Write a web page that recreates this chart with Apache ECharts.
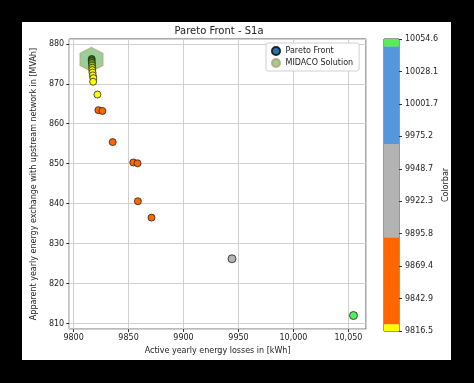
<!DOCTYPE html>
<html>
<head>
<meta charset="utf-8">
<script src="https://cdn.jsdelivr.net/npm/echarts@6/dist/echarts.min.js"></script>
<style>
	body { margin: 0; background: #000; width: 474px; height: 383px; overflow: hidden; }
	#chart { position: absolute; left: 22px; top: 22px; width: 429px; height: 338px; background: #fff; }
</style>
</head>
<body>
<div id="chart"></div>
<script>
	// pareto points: x = active losses [kWh], y = apparent exchange [MVAh]
	var paretoX = [9816.5, 9816.5, 9816.6, 9816.8, 9817.0, 9817.0, 9817.2, 9817.5, 9818.0, 9817.8,
		9821.7, 9822.6, 9826.2, 9835.6, 9854.3, 9858.2, 9858.5, 9870.9, 9944.1, 10054.6];
	var paretoY = [876.2, 875.7, 875.2, 874.6, 874.0, 873.4, 872.8, 872.1, 871.4, 870.5,
		867.3, 863.4, 863.2, 855.4, 850.3, 850.1, 840.6, 836.5, 826.2, 812.0];
	var midacoX = [9816.3];
	var midacoY = [876.1];

	// colorbar
	var cbTicks = ['9816.5', '9842.9', '9869.4', '9895.8', '9922.3', '9948.7', '9975.2', '10001.7', '10028.1', '10054.6'];
	var cbBounds = [9816.5, 9822.0, 9893.0, 9969.0, 10048.6, 10054.6];
	var cbColors = ['#ffff00', '#ff6600', '#b3b3b3', '#5597dd', '#55ee55'];
	// the first few points are drawn in greens, not from the colorbar
	var clusterShades = ['#2e6b00', '#3f8a00', '#5fa800', '#95c400', '#c8dc00'];

	var cbMin = cbBounds[0], cbMax = cbBounds[cbBounds.length - 1];
	var cbStep = (cbMax - cbMin) / (cbTicks.length - 1);

	function colorOf(i) {
		if (i < clusterShades.length) return clusterShades[i];
		var x = paretoX[i];
		for (var k = 0; k < cbColors.length; k++) {
			if (x <= cbBounds[k + 1]) return cbColors[k];
		}
		return cbColors[cbColors.length - 1];
	}

	var paretoData = paretoX.map(function(x, i) {
		var big = i >= paretoX.length - 2;
		return {
			value: [x, paretoY[i]],
			symbolSize: big ? 8 : 7,
			itemStyle: { color: colorOf(i) }
		};
	});
	var midacoData = midacoX.map(function(x, i) { return [x, midacoY[i]]; });

	var cbSeries = cbColors.map(function(c, k) {
		return {
			type: 'bar',
			xAxisIndex: 1,
			yAxisIndex: 2,
			stack: 'cb',
			barWidth: '100%',
			silent: true,
			itemStyle: { color: c },
			data: [(cbBounds[k + 1] - cbBounds[k]) / cbStep]
		};
	});

	var txt = '#222';
	var font = 'DejaVu Sans';

	var chart = echarts.init(document.getElementById('chart'));
	var option = {
		animation: false,
		textStyle: { fontFamily: font },
		title: {
			text: 'Pareto Front - S1a',
			left: 192, top: -1,
			textAlign: 'center',
			textStyle: { fontSize: 10, fontWeight: 'normal', color: txt, fontFamily: font }
		},
		legend: {
			orient: 'vertical',
			left: 244, top: 21,
			data: ['Pareto Front', 'MIDACO Solution'],
			icon: 'circle',
			itemWidth: 9, itemHeight: 8, itemGap: 2,
			padding: [3, 6, 3, 5],
			borderColor: '#d0d0d0', borderWidth: 1, borderRadius: 2,
			backgroundColor: '#fff',
			textStyle: { fontSize: 8, color: txt, fontFamily: font }
		},
		grid: [
			{ left: 41, top: 17, width: 303, height: 292, show: true, borderColor: '#555', borderWidth: 1 },
			{ left: 362, top: 17, width: 15, height: 292, show: true, borderColor: '#333', borderWidth: 1 }
		],
		xAxis: [{
			type: 'value',
			gridIndex: 0,
			min: 9796, max: 10066,
			splitNumber: 5,
			name: 'Active yearly energy losses in [kWh]',
			nameLocation: 'middle', nameGap: 17,
			nameTextStyle: { fontSize: 8, color: txt, fontFamily: font },
			axisLine: { show: false },
			axisTick: { show: true, length: 3, lineStyle: { color: '#333' } },
			axisLabel: {
				fontSize: 8, color: txt, margin: 5,
				showMinLabel: false, showMaxLabel: false,
				formatter: function(v) { return v >= 10000 ? String(v).replace(/^(\d+)(\d{3})$/, '$1,$2') : String(v); }
			},
			splitLine: { show: true, lineStyle: { color: '#d0d0d0', width: 1 } }
		}, {
			type: 'category',
			gridIndex: 1,
			data: ['cb'],
			show: false
		}],
		yAxis: [{
			type: 'value',
			gridIndex: 0,
			min: 808.6, max: 881.2,
			splitNumber: 7,
			name: 'Apparent yearly energy exchange with upstream network in [MVAh]',
			nameLocation: 'middle', nameGap: 24,
			nameTextStyle: { fontSize: 8, color: txt, fontFamily: font },
			axisLine: { show: false },
			axisTick: { show: true, length: 3, lineStyle: { color: '#333' } },
			axisLabel: { fontSize: 8, color: txt, margin: 5, showMinLabel: false, showMaxLabel: false },
			splitLine: { show: true, lineStyle: { color: '#d0d0d0', width: 1 } }
		}, {
			type: 'value',
			gridIndex: 1,
			show: false
		}, {
			type: 'value',
			gridIndex: 1,
			min: 0, max: cbTicks.length - 1,
			interval: 1,
			position: 'right',
			name: 'Colorbar',
			nameLocation: 'middle', nameGap: 40,
			nameRotate: 90,
			nameTextStyle: { fontSize: 8, color: txt, fontFamily: font },
			axisLine: { show: false },
			axisTick: { show: true, length: 3, lineStyle: { color: '#333' } },
			axisLabel: {
				fontSize: 8, color: txt, margin: 6,
				formatter: function(v) { return cbTicks[Math.round(v)]; }
			},
			splitLine: { show: false }
		}],
		series: [{
			name: 'MIDACO Solution',
			type: 'scatter',
			xAxisIndex: 0, yAxisIndex: 0,
			z: 2,
			symbol: 'path://M50,0 L93.3,25 L93.3,75 L50,100 L6.7,75 L6.7,25 Z',
			symbolSize: [23, 24],
			itemStyle: { color: 'rgba(115,188,115,0.9)', borderColor: '#b99c6e', borderWidth: 1 },
			data: midacoData
		}, {
			name: 'Pareto Front',
			type: 'scatter',
			xAxisIndex: 0, yAxisIndex: 0,
			z: 3,
			symbolSize: 7,
			itemStyle: { color: '#1f77b4', borderColor: '#222', borderWidth: 0.8, opacity: 1 },
			data: paretoData
		}].concat(cbSeries)
	};
	chart.setOption(option);
</script>
</body>
</html>
